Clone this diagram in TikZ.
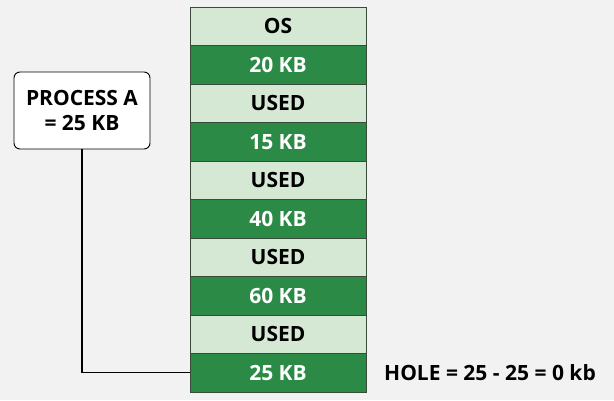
\documentclass[tikz,border=0pt]{standalone}
\usepackage{fontspec}
\setmainfont{Open Sans}[BoldFont={Open Sans Bold}]
\definecolor{bgGrey}{HTML}{F2F2F2}
\definecolor{usedGreen}{HTML}{D5E8D4}
\definecolor{freeGreen}{HTML}{2B8A45}
\definecolor{rowLine}{HTML}{3A4A3A}
\tikzset{
	usedrow/.style={draw=rowLine, fill=usedGreen, minimum width=176pt, minimum height=38.5pt,
		inner sep=0pt, font=\fontsize{21}{24}\selectfont\bfseries, text=black},
	freerow/.style={usedrow, fill=freeGreen, text=white},
	procbox/.style={draw=black, line width=0.9pt, fill=white, rounded corners=6pt,
		minimum width=136pt, minimum height=77pt, align=center,
		font=\fontsize{21}{25}\selectfont\bfseries}
}
\begin{document}
\begin{tikzpicture}[x=1pt,y=-1pt]
		% Hintergrund
		\fill[bgGrey] (0,0) rectangle (614,400);
		\useasboundingbox (0,0) rectangle (614,400);
		% Speicher
		\node[usedrow] (r1) at (278,26.25) {OS};
		\node[freerow] (r2) at (278,64.75) {20 KB};
		\node[usedrow] (r3) at (278,103.25) {USED};
		\node[freerow] (r4) at (278,141.75) {15 KB};
		\node[usedrow] (r5) at (278,180.25) {USED};
		\node[freerow] (r6) at (278,218.75) {40 KB};
		\node[usedrow] (r7) at (278,257.25) {USED};
		\node[freerow] (r8) at (278,295.75) {60 KB};
		\node[usedrow] (r9) at (278,334.25) {USED};
		\node[freerow] (r10) at (278,372.75) {25 KB};
		% Prozess
		\node[procbox] (proc) at (82,110.5) {PROCESS A\\= 25 KB};
		\draw[line width=1.2pt] (proc.south) |- (r10.west);
		% Loch
		\node[anchor=west, inner sep=0pt, font=\fontsize{21}{24}\selectfont\bfseries]
			(hole) at (384,373) {HOLE = 25 - 25 = 0 kb};
	\end{tikzpicture}
\end{document}
